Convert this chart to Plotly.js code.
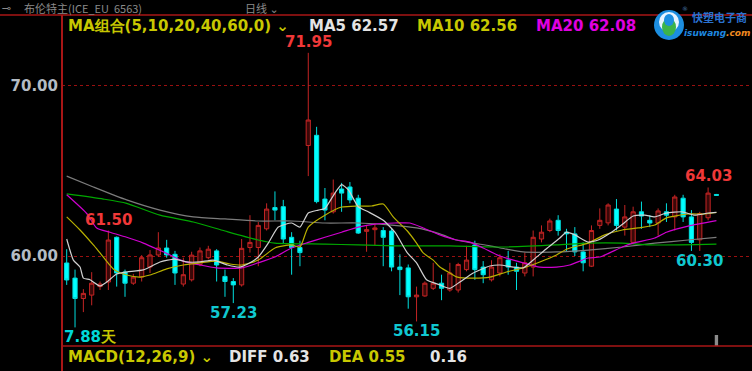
<!DOCTYPE html>
<html><head><meta charset="utf-8">
<script src="https://cdn.plot.ly/plotly-3.0.1.min.js"></script>
<style>html,body{margin:0;padding:0;background:#000;}#chart{width:752px;height:371px;}</style>
</head><body><div id="chart"></div>
<script>
// ---- data ----
const idx = [1,2,3,4,5,6,7,8,9,10,11,12,13,14,15,16,17,18,19,20,21,22,23,24,25,26,27,28,29,30,31,32,33,34,35,36,37,38,39,40,41,42,43,44,45,46,47,48,49,50,51,52,53,54,55,56,57,58,59,60,61,62,63,64,65,66,67,68,69,70,71,72,73,74,75,76,77,78,79];
const open = [59.59,58.7,57.5,57.7,58.2,58.47,61.1,59.06,58.4,58.76,59.35,60.06,60.47,60.1,58.35,58.6,59.5,59.9,60.3,58.8,58.5,58.3,60.5,60.5,61.6,62.85,62.9,61.1,60.5,66.5,67.1,63.35,62.6,63.94,64.06,63.4,61.45,61.55,61.5,61.47,59.35,59.3,57.6,57.65,58.1,58.4,58.0,58.0,59.2,60.65,59.35,58.6,59.0,59.76,59.35,59.0,59.35,61.0,61.5,62.1,61.4,61.3,60.24,59.4,61.8,61.95,62.76,61.7,60.8,62.6,62.1,61.94,62.6,62.3,63.4,62.3,60.95,62.25,63.62];
const high = [60.4,59.2,58.05,59.05,58.5,61.5,61.15,59.2,58.95,60.05,60.35,61.4,60.95,60.3,59.9,60.25,60.5,60.6,60.4,59.2,58.7,61.0,62.4,62.0,63.1,63.8,63.3,61.4,60.9,71.95,67.6,64.0,64.5,64.3,64.35,63.6,61.8,61.9,61.7,61.6,60.1,59.5,58.2,58.5,59.6,58.9,59.6,59.6,60.6,60.9,59.7,59.75,60.1,60.3,59.6,60.2,61.5,61.8,62.2,62.4,61.6,61.7,60.8,61.8,62.8,63.1,63.35,63.0,62.9,63.2,62.4,62.8,63.1,63.6,63.6,62.7,62.6,64.03,63.65];
const low = [58.3,55.8,56.7,57.1,58.0,58.0,58.2,57.6,58.3,58.5,59.0,59.95,59.9,58.3,58.2,58.5,59.4,59.8,58.5,57.6,57.23,58.2,60.2,59.4,61.5,62.1,60.7,58.9,59.4,64.7,63.1,62.1,62.5,62.6,63.1,61.3,60.25,60.6,59.4,59.1,57.7,56.9,56.15,57.6,58.0,57.4,57.9,57.85,59.1,58.6,58.4,58.5,58.8,58.9,58.0,58.8,58.8,60.8,61.4,61.2,60.3,60.0,59.1,59.35,61.6,61.8,61.5,61.2,60.7,61.6,61.7,61.2,62.0,61.5,62.0,60.3,60.3,62.1,63.55];
const close = [58.59,57.5,57.8,58.4,58.35,60.94,59.0,58.4,58.76,59.9,60.06,60.47,60.06,59.0,58.9,60.05,60.3,60.4,59.47,58.5,58.3,60.45,60.8,61.8,62.76,62.7,61.0,60.5,60.2,68.0,63.2,62.7,63.7,63.7,63.3,61.35,61.55,61.65,61.1,59.35,59.2,57.6,57.7,58.4,58.4,58.1,59.0,59.5,59.76,59.2,58.9,59.35,59.9,59.35,59.1,59.6,61.1,61.4,62.06,61.5,61.3,60.24,59.6,61.5,62.1,63.0,61.8,62.3,62.6,62.35,61.94,62.65,62.4,63.47,62.3,60.8,62.5,63.7,63.57];

// moving average lines, read at candle positions
const ma5X = [1,1.8,2.6,3,3.8,5,5.8,7,8.2,10.2,12.2,14,15.4,17,18.6,20.3,21.8,23,24,25.2,26.4,28,29,30,31.2,32,33.2,34,34.8,36,37.2,39,40.4,41.9,43,44.2,45.8,47,48.2,49.8,51.8,53,54.6,55.8,57,58.7,60.2,61,62,63.6,64.8,66.4,67.6,69,70.4,71.6,73,74.9,76.4,78,79];
const ma5Y = [61.0,59.76,59.35,58.7,58.6,58.24,58.47,58.94,59.06,59.18,59.65,59.82,59.65,59.65,59.76,59.47,59.35,59.6,59.94,60.76,61.7,61.94,61.7,62.53,62.7,62.8,63.7,64.2,63.9,62.9,62.6,62.1,61.4,60.18,59.6,58.6,58.3,58.1,58.47,59.0,59.41,59.47,59.35,59.3,59.76,60.47,61.06,61.4,61.24,60.82,60.94,61.4,61.82,62.35,62.4,62.3,62.53,62.6,62.4,62.53,62.57];
const ma10X = [1,2.6,4.2,5,6.6,8.2,9.8,11,13,15,17,19,20.6,22,24,26,28,29,30,32,34,36,37.6,39,40.2,41.9,43,43.8,45,45.8,47,47.9,49.8,51.8,53.8,55.8,57.8,59.8,61,63.6,65.6,67.7,69.6,71.6,73,75.6,77.6,79];
const ma10Y = [62.3,61.53,60.65,60.18,59.24,58.88,58.76,58.88,59.24,59.47,59.6,59.7,59.53,59.47,59.76,60.47,60.65,60.53,61.7,62.4,62.88,62.94,62.94,63.06,62.3,61.47,60.76,60.18,59.76,59.35,59.0,58.76,58.7,58.76,59.06,59.3,59.65,60.06,60.4,60.76,61.24,61.53,61.65,61.82,62.24,62.47,62.47,62.56];
const ma20X = [1,3.4,4.6,6.2,8.2,10.2,11.9,13.4,15,17,19,22,24,26,28,30,32,34,36,38,40.4,42.2,43.8,45.8,47.8,49.4,51,53,55.8,57.8,59.8,61.4,63.6,65,67.7,69,71.6,73,75.6,79];
const ma20Y = [63.6,62.5,61.65,61.4,61.1,60.76,60.4,60.06,59.7,59.47,59.3,59.3,59.6,59.94,60.47,60.8,61.1,61.4,61.7,61.88,61.94,61.94,61.65,61.24,60.94,60.82,60.47,60.0,59.6,59.35,59.35,59.47,59.88,59.94,60.53,60.76,61.06,61.4,61.76,62.08];
const ma40X = [1,5.4,8.2,12.2,16.2,20,24,26,32,36,40.4,47,53,59.8,63.6,67.7,71,79];
const ma40Y = [63.65,63.35,63.1,62.4,62.0,61.47,60.94,60.76,60.7,60.65,60.6,60.6,60.53,60.65,60.76,60.76,60.65,60.7];
const ma60X = [1,4.2,8.2,12.2,16.2,20,24,28,32,36,40,43,45.8,47.8,49.8,51.8,53.8,55.8,59.8,63.6,67.7,71.6,75.6,79];
const ma60Y = [64.7,64.06,63.3,62.7,62.3,62.18,62.06,62.06,61.94,61.94,61.82,61.65,61.3,60.94,60.76,60.6,60.4,60.24,60.24,60.35,60.53,60.76,60.94,61.1];

const macdHistX = [79];
const macdHistY = [0.16];

const yTicks = [60, 70];
const yTickText = ['60.00', '70.00'];

const markHigh = [{i: 30, v: 71.95, t: '71.95'}, {i: 6, v: 61.50, t: '61.50'}, {i: 78, v: 64.03, t: '64.03'}];
const markLow = [{i: 21, v: 57.23, t: '57.23'}, {i: 43, v: 56.15, t: '56.15'}, {i: 77, v: 60.30, t: '60.30'}];

// ---- helpers (pixel -> paper) ----
const L = 62, R = 752, T = 15, B = 346;
const P = x => (x - L) / (R - L);
const Q = y => (B - y) / (B - T);
const FONT = 'DejaVu Sans, Verdana, sans-serif';
const CJK = 'Noto Sans CJK SC, DejaVu Sans, sans-serif';

const traces = [
  {type: 'candlestick', x: idx, open: open, high: high, low: low, close: close,
   increasing: {line: {color: '#c42424', width: 1}, fillcolor: '#3a0808'},
   decreasing: {line: {color: '#00dede', width: 1}, fillcolor: '#00ffff'},
   whiskerwidth: 0, hoverinfo: 'skip', showlegend: false},
  {type: 'scatter', mode: 'lines', x: ma60X, y: ma60Y, line: {color: '#7c7c7c', width: 1.2, shape: 'spline', smoothing: 0.6}, hoverinfo: 'skip', showlegend: false},
  {type: 'scatter', mode: 'lines', x: ma40X, y: ma40Y, line: {color: '#00a800', width: 1.2, shape: 'spline', smoothing: 0.6}, hoverinfo: 'skip', showlegend: false},
  {type: 'scatter', mode: 'lines', x: ma20X, y: ma20Y, line: {color: '#d000d0', width: 1.2, shape: 'spline', smoothing: 0.6}, hoverinfo: 'skip', showlegend: false},
  {type: 'scatter', mode: 'lines', x: ma10X, y: ma10Y, line: {color: '#b8b000', width: 1.2, shape: 'spline', smoothing: 0.6}, hoverinfo: 'skip', showlegend: false},
  {type: 'scatter', mode: 'lines', x: ma5X, y: ma5Y, line: {color: '#d0d0d0', width: 1.2, shape: 'spline', smoothing: 0.5}, hoverinfo: 'skip', showlegend: false},
  {type: 'bar', x: macdHistX, y: macdHistY, yaxis: 'y2', width: 0.4, marker: {color: '#8c8c8c'}, hoverinfo: 'skip', showlegend: false}
];

function txt(x, y, text, color, size, opts) {
  opts = opts || {};
  return {xref: 'paper', yref: 'paper', x: P(x), y: Q(y), text: text, showarrow: false,
    xanchor: opts.anchor || 'left', yanchor: 'middle',
    font: {family: opts.family || FONT, size: size || 15, color: color, weight: opts.weight || 'bold'}};
}

const annotations = [
  txt(0, 8, '⊸', '#8a8a8a', 11, {weight: 'normal'}),
  txt(22, 8, '布伦特主(ICE_EU  6563)', '#8a8a8a', 11, {family: CJK, weight: 'normal'}),
  txt(243, 8, '日线 ⌄', '#8a8a8a', 11, {family: CJK, weight: 'normal'}),
  txt(66, 26, 'MA组合(5,10,20,40,60,0) ⌄', '#c8c800', 15),
  txt(307, 26, 'MA5 62.57', '#e4e4e4', 15),
  txt(415, 26, 'MA10 62.56', '#c8c800', 15),
  txt(534, 26, 'MA20 62.08', '#e000e0', 15),
  txt(66, 357, 'MACD(12,26,9) ⌄', '#c8c800', 15),
  txt(227, 357, 'DIFF 0.63', '#e4e4e4', 15),
  txt(327, 357, 'DEA 0.55', '#c8c800', 15),
  txt(428, 357, '0.16', '#e4e4e4', 15),
  txt(62, 337, '7.88<span style="color:#c8c800">天</span>', '#00d8d8', 15),
  // logo text
  txt(690, 17, '快塑电子商', '#2a72d0', 11, {family: CJK}),
  txt(682, 33, '<i>isuwang<span style="color:#f08a20">.com</span></i>', '#1e88e0', 9),
  txt(680, 9, '®', '#4a7ab0', 6, {weight: 'normal'})
];
markHigh.forEach(m => annotations.push({xref: 'x', yref: 'y', x: m.i, y: m.v, text: m.t, showarrow: false,
  xanchor: 'center', yanchor: 'middle', yshift: 11, font: {family: FONT, size: 15, color: '#f03838', weight: 'bold'}}));
markLow.forEach(m => annotations.push({xref: 'x', yref: 'y', x: m.i, y: m.v, text: m.t, showarrow: false,
  xanchor: 'center', yanchor: 'middle', yshift: -10, font: {family: FONT, size: 15, color: '#10c8d0', weight: 'bold'}}));

const red = '#a81616';
const shapes = [
  {type: 'line', xref: 'paper', yref: 'paper', x0: P(0), x1: P(752), y0: Q(15), y1: Q(15), line: {color: red, width: 1.5}},
  {type: 'line', xref: 'paper', yref: 'paper', x0: P(62), x1: P(62), y0: Q(15), y1: Q(371), line: {color: red, width: 2}},
  {type: 'line', xref: 'paper', yref: 'paper', x0: P(62), x1: P(752), y0: Q(346), y1: Q(346), line: {color: red, width: 1.5}},
  // logo
  {type: 'circle', xref: 'paper', yref: 'paper', x0: P(654), x1: P(684), y0: Q(10), y1: Q(40), fillcolor: '#1c8ee0', line: {width: 0}},
  {type: 'circle', xref: 'paper', yref: 'paper', x0: P(659), x1: P(679), y0: Q(12), y1: Q(32), fillcolor: '#e8f4ff', line: {width: 0}},
  {type: 'circle', xref: 'paper', yref: 'paper', x0: P(662), x1: P(676), y0: Q(18), y1: Q(36), fillcolor: '#3cb44a', line: {width: 0}},
  {type: 'circle', xref: 'paper', yref: 'paper', x0: P(664), x1: P(674), y0: Q(14), y1: Q(26), fillcolor: '#1c8ee0', line: {width: 0}}
];

const layout = {
  width: 752, height: 371,
  margin: {l: L, r: 752 - R, t: T, b: 371 - B, pad: 0},
  paper_bgcolor: '#000', plot_bgcolor: '#000',
  showlegend: false, boxgap: 0.28, barmode: 'overlay',
  xaxis: {range: [0.436, 83.27], showgrid: false, zeroline: false, showticklabels: false, showline: false, ticks: '', rangeslider: {visible: false}, fixedrange: true},
  yaxis: {range: [54.706, 74.176], tickvals: yTicks, ticktext: yTickText, showgrid: true, gridcolor: '#9a1010', griddash: 'dot', gridwidth: 1,
          zeroline: false, showline: false, ticks: '', ticklabelstandoff: 3, tickfont: {family: FONT, size: 15, color: '#b4bcc4', weight: 'bold'}, fixedrange: true},
  yaxis2: {overlaying: 'y', range: [0, 4.81], visible: false, fixedrange: true},
  annotations: annotations, shapes: shapes
};

Plotly.newPlot('chart', traces, layout, {staticPlot: true, displayModeBar: false});
</script></body></html>
